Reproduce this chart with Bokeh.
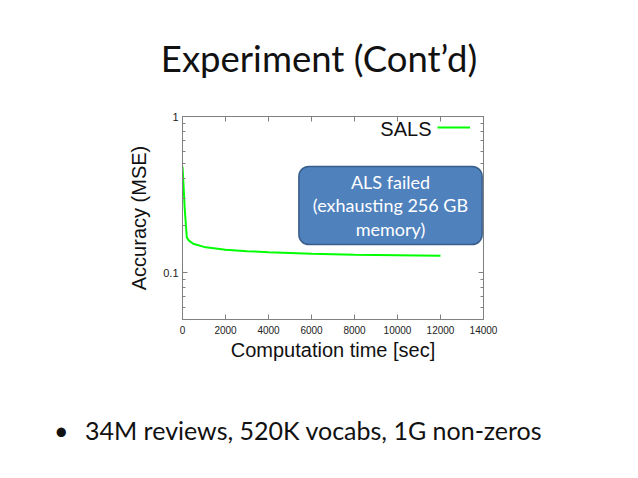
from bokeh.plotting import figure
from bokeh.models import (Label, LinearAxis, LogAxis, FixedTicker, Range1d, Legend, LegendItem,
                          Div, CustomJSTickFormatter)
from bokeh.layouts import column
from bokeh.embed import file_html
from bokeh.resources import INLINE

# ---- data ----
time_sec = [0, 50, 100, 200, 300, 500, 1000, 2000, 3000, 4000, 6000, 8000, 10000, 12000]
mse_sals = [0.478, 0.36, 0.26, 0.168, 0.160, 0.153, 0.146, 0.140, 0.137, 0.135, 0.132, 0.130, 0.129, 0.128]
x_ticks = [0, 2000, 4000, 6000, 8000, 10000, 12000, 14000]
y_ticks = [0.1, 1]
y_minor = [0.05, 0.06, 0.07, 0.08, 0.09, 0.2, 0.3, 0.4, 0.5, 0.6, 0.7, 0.8, 0.9]

title_text = "Experiment (Cont\u2019d)"
bullet_text = "34M reviews, 520K vocabs, 1G non-zeros"
note_text = "ALS failed\n(exhausting 256 GB\nmemory)"
series_name = "SALS"

PAGE_W = 630
AXC = "#808080"
TXT = "#111111"

# ---- slide title ----
title_div = Div(
    text=f'<div style="margin-top:40px;width:638px;text-align:center;font-family:Lato;'
         f'font-size:36.5px;line-height:36.5px;color:{TXT};white-space:nowrap;">{title_text}</div>',
    width=630, height=98, margin=0)

# ---- chart ----
p = figure(width=PAGE_W, height=266, output_backend="svg", toolbar_location=None,
           y_axis_type="log", x_range=Range1d(0, 14000), y_range=Range1d(0.05, 1),
           min_border_left=182, min_border_right=147, min_border_top=18, min_border_bottom=45)
p.background_fill_color = "white"
p.border_fill_color = "white"
p.outline_line_color = AXC
p.grid.visible = False

r = p.line(time_sec, mse_sals, line_color="#00ff00", line_width=2)

blank = CustomJSTickFormatter(code="return '';")

def style_axis(ax, show_labels=True):
    ax.axis_line_color = AXC
    ax.major_tick_line_color = AXC
    ax.minor_tick_line_color = AXC
    ax.major_tick_in = 5
    ax.major_tick_out = 0
    ax.minor_tick_in = 3
    ax.minor_tick_out = 0
    ax.major_label_text_font = "Liberation Sans"
    ax.major_label_text_color = "#222222"
    if not show_labels:
        ax.formatter = blank
        ax.major_label_standoff = 0

fmt = CustomJSTickFormatter(code="return tick.toString();")

xa = p.xaxis[0]
xa.ticker = FixedTicker(ticks=x_ticks)
style_axis(xa)
xa.minor_tick_in = 0
xa.major_label_text_font_size = "10px"
xa.major_label_standoff = 6
xa.axis_label = "Computation time [sec]"
xa.axis_label_text_font = "Liberation Sans"
xa.axis_label_text_font_size = "20px"
xa.axis_label_text_font_style = "normal"
xa.axis_label_text_color = TXT
xa.axis_label_standoff = 2

ya = p.yaxis[0]
ya.ticker = FixedTicker(ticks=y_ticks, minor_ticks=y_minor)
ya.formatter = fmt
style_axis(ya)
ya.major_label_text_font_size = "11px"
ya.major_label_standoff = 4
ya.axis_label = "Accuracy (MSE)"
ya.axis_label_text_font = "Liberation Sans"
ya.axis_label_text_font_size = "20px"
ya.axis_label_text_font_style = "normal"
ya.axis_label_text_color = TXT
ya.axis_label_standoff = 10

top = LinearAxis(ticker=FixedTicker(ticks=x_ticks))
style_axis(top, False)
top.minor_tick_in = 0
p.add_layout(top, "above")
right = LogAxis(ticker=FixedTicker(ticks=y_ticks, minor_ticks=y_minor))
style_axis(right, False)
p.add_layout(right, "right")

# legend: text on the left, line sample on the right (gnuplot style)
p.add_layout(Label(x=249, y=191, x_units="screen", y_units="screen", text=series_name,
                   text_font="Liberation Sans", text_font_size="20px", text_align="right",
                   text_baseline="middle", text_color=TXT))
leg = Legend(items=[LegendItem(label="", renderers=[r])], location=(255, 182),
             background_fill_alpha=0, border_line_alpha=0, glyph_width=33, glyph_height=20,
             label_width=0, label_height=20, label_standoff=0, padding=0, margin=0, spacing=0)
p.add_layout(leg, "center")

# callout box
p.add_layout(Label(x=208, y=114, x_units="screen", y_units="screen", text=note_text,
                   text_font="Lato", text_font_size="18px", text_align="center",
                   text_baseline="middle", text_color="white", text_line_height=1.05,
                   background_fill_color="#4F81BD", border_line_color="#385D8A",
                   border_line_width=1.5, border_radius=10,
                   padding=dict(left=14, right=14, top=5, bottom=5)))

# ---- bullet text ----
bullet_div = Div(
    text=f'<div style="margin-top:54px;padding-left:54px;font-family:Lato;font-size:25px;'
         f'line-height:25px;color:{TXT};white-space:nowrap;">'
         f'<span style="display:inline-block;width:31px;">\u2022</span>{bullet_text}</div>',
    width=630, height=106, margin=0)

layout = column(title_div, p, bullet_div, spacing=0)
open("out.html", "w").write(file_html(layout, INLINE))
